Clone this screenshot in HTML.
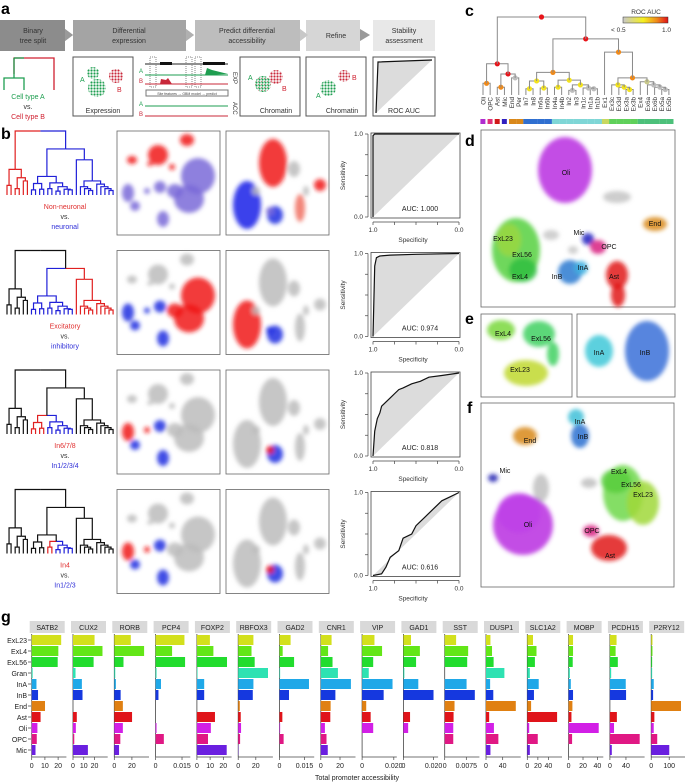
<!DOCTYPE html>
<html><head><meta charset="utf-8">
<style>
body{margin:0;background:#fff;}
svg{display:block;font-family:"Liberation Sans",sans-serif;}
</style></head>
<body>
<svg id="fig" width="685" height="783" viewBox="0 0 685 783" xmlns="http://www.w3.org/2000/svg">
<defs>
<filter id="blur2" x="-50%" y="-50%" width="200%" height="200%"><feGaussianBlur stdDeviation="2"/></filter>
<pattern id="gdots" width="3" height="3" patternUnits="userSpaceOnUse"><circle cx="1.5" cy="1.5" r="1.1" fill="#1e9e50"/></pattern>
<pattern id="rdots" width="3" height="3" patternUnits="userSpaceOnUse"><circle cx="1.5" cy="1.5" r="1.1" fill="#c8283a"/></pattern>
<pattern id="mdots" width="3" height="3" patternUnits="userSpaceOnUse"><circle cx="1.5" cy="1.5" r="1.1" fill="#1e9e50"/><circle cx="0" cy="0" r="0.8" fill="#c8283a"/></pattern>
<linearGradient id="rocgrad" x1="0" x2="1"><stop offset="0" stop-color="#c8c8c8"/><stop offset="0.45" stop-color="#f5f020"/><stop offset="0.75" stop-color="#f08a1a"/><stop offset="1" stop-color="#e01018"/></linearGradient>
</defs>

<g>
<text x="1" y="14" font-size="16" font-weight="bold">a</text>
<polygon points="0,20 65,20 65,29 73,35 65,41 65,51 0,51" fill="#8c8c8c"/>
<polygon points="73,20 186,20 186,29 194,35 186,41 186,51 73,51" fill="#a4a4a4"/>
<polygon points="195,20 300,20 300,29 308,35 300,41 300,51 195,51" fill="#bdbdbd"/>
<polygon points="306,20 360,20 360,29 370,35 360,41 360,51 306,51" fill="#d6d6d6"/>
<rect x="373" y="20" width="62" height="31" fill="#e8e8e8"/>
<polygon points="65,29 73,35 65,41" fill="#9a9a9a"/><polygon points="186,29 194,35 186,41" fill="#b0b0b0"/><polygon points="300,29 308,35 300,41" fill="#c8c8c8"/><polygon points="360,29 370,35 360,41" fill="#9a9a9a"/>
<g font-size="7" fill="#333" text-anchor="middle">
<text x="33" y="33">Binary</text><text x="33" y="43">tree split</text>
<text x="129" y="33">Differential</text><text x="129" y="43">expression</text>
<text x="247" y="33">Predict differential</text><text x="247" y="43">accessibility</text>
<text x="336" y="38">Refine</text>
<text x="404" y="33">Stability</text><text x="404" y="43">assessment</text>
</g>
<g stroke-width="1.3" fill="none">
<path d="M14,74 V58 H54 V90" stroke="#d02030"/><path d="M14,58 H24" stroke="#1e9e50"/>
<path d="M14,58 V78 M4,90 V78 H24 V90" stroke="#1e9e50"/>
</g>
<g font-size="7" text-anchor="middle"><text x="28" y="99" fill="#1e9e50">Cell type A</text><text x="28" y="109" fill="#333">vs.</text><text x="28" y="119" fill="#d02030">Cell type B</text></g>
<rect x="73" y="57" width="60" height="59" fill="#fff" stroke="#555"/>
<circle cx="93" cy="73" r="6" fill="url(#gdots)"/><circle cx="97" cy="88" r="9" fill="url(#gdots)"/><circle cx="116" cy="76" r="7" fill="url(#rdots)"/>
<text x="80" y="82" font-size="7" fill="#1e9e50">A</text><text x="117" y="92" font-size="7" fill="#d02030">B</text>
<text x="103" y="113" font-size="7" text-anchor="middle" fill="#333">Expression</text>
<g font-size="6">
<line x1="145" y1="64" x2="228" y2="64" stroke="#222"/><rect x="160" y="62" width="12" height="3" fill="#111"/><rect x="203" y="62" width="22" height="3" fill="#111"/>
<rect x="150" y="57" width="6" height="30" fill="none" stroke="#888" stroke-dasharray="1,1"/><rect x="186" y="57" width="6" height="30" fill="none" stroke="#888" stroke-dasharray="1,1"/><rect x="195" y="57" width="6" height="30" fill="none" stroke="#888" stroke-dasharray="1,1"/>
<text x="139" y="73" fill="#1e9e50">A</text><line x1="145" y1="75" x2="228" y2="75" stroke="#1e9e50"/><path d="M205,75 L207,68 L212,70 L220,72 L228,74 Z" fill="#1e9e50"/>
<text x="139" y="83" fill="#c8283a">B</text><line x1="145" y1="84" x2="228" y2="84" stroke="#c8283a"/><path d="M160,84 L161,79 L166,80 L168,78 L172,84 Z" fill="#c8283a"/>
<rect x="146" y="90" width="82" height="6" fill="#fff" stroke="#777"/><text x="187" y="95" font-size="3.5" text-anchor="middle" fill="#444">Site features → GBM model → predict</text>
<text x="139" y="106" fill="#1e9e50">A</text><line x1="145" y1="106" x2="228" y2="106" stroke="#1e9e50"/>
<text x="139" y="116" fill="#c8283a">B</text><line x1="145" y1="116" x2="228" y2="116" stroke="#c8283a"/>
<text x="233" y="72" font-size="6" transform="rotate(90 233 72)" fill="#333">EXP</text><text x="233" y="102" font-size="6" transform="rotate(90 233 102)" fill="#333">ACC</text>
</g>
<rect x="240" y="57" width="60" height="59" fill="#fff" stroke="#555"/>
<circle cx="263" cy="84" r="8" fill="url(#mdots)"/><circle cx="276" cy="77" r="7" fill="url(#rdots)"/>
<text x="248" y="80" font-size="7" fill="#1e9e50">A</text><text x="282" y="91" font-size="7" fill="#d02030">B</text>
<text x="276" y="113" font-size="7" text-anchor="middle" fill="#333">Chromatin</text>
<rect x="306" y="57" width="60" height="59" fill="#fff" stroke="#555"/>
<circle cx="328" cy="88" r="8" fill="url(#gdots)"/><circle cx="344" cy="76" r="6" fill="url(#rdots)"/>
<text x="316" y="98" font-size="7" fill="#1e9e50">A</text><text x="352" y="80" font-size="7" fill="#d02030">B</text>
<text x="342" y="113" font-size="7" text-anchor="middle" fill="#333">Chromatin</text>
<rect x="373" y="57" width="62" height="59" fill="#fff" stroke="#555"/>
<polygon points="376,113 378,62 432,60 432,113" fill="#dcdcdc"/><polygon points="376,113 432,60 432,113" fill="#fff"/>
<path d="M376,113 L378,62 L432,60" fill="none" stroke="#111" stroke-width="1.2"/>
<text x="404" y="113" font-size="7" text-anchor="middle" fill="#333">ROC AUC</text>
</g>

<g id="panelc">
<text x="465" y="16" font-size="16" font-weight="bold">c</text>
<text x="646" y="14" font-size="6.5" text-anchor="middle" fill="#333">ROC AUC</text>
<rect x="623" y="17" width="45" height="6" fill="url(#rocgrad)" stroke="#333" stroke-width="0.5"/>
<text x="611" y="32" font-size="6.5" fill="#333">&lt; 0.5</text><text x="662" y="32" font-size="6.5" fill="#333">1.0</text>
</g>

<g id="panelb">
<text x="1" y="139" font-size="16" font-weight="bold">b</text>
</g>

<g id="paneldef">
<text x="465" y="146" font-size="16" font-weight="bold">d</text>
<text x="465" y="324" font-size="16" font-weight="bold">e</text>
<text x="467" y="413" font-size="16" font-weight="bold">f</text>
</g>

<g id="panelg">
<text x="1" y="622" font-size="16" font-weight="bold">g</text>
<text x="357" y="780" font-size="7" text-anchor="middle" fill="#222">Total promoter accessibility</text>
</g>
</svg>

<script>
const genes = ["SATB2","CUX2","RORB","PCP4","FOXP2","RBFOX3","GAD2","CNR1","VIP","GAD1","SST","DUSP1","SLC1A2","MOBP","PCDH15","P2RY12"];
const cellTypes = ["ExL23","ExL4","ExL56","Gran","InA","InB","End","Ast","Oli","OPC","Mic"];
const cellColors = ["#d3e01c","#63e617","#22dc2e","#2ee2b2","#1fa8e8","#1538df","#e08012","#e0141a","#d21fe6","#e01884","#6a1fe0"];
const geneScale = [24,29.5,36,0.018,24,36,0.019,33,0.020,0.021,0.011,76,60,44,79,176];
const v_SATB2  = [93,84,82,3,15,20,42,28,18,16,12];
const v_CUX2   = [68,93,65,8,28,30,0,12,9,4,47];
const v_RORB   = [52,94,29,3,5,20,27,56,27,19,15];
const v_PCP4   = [91,52,93,3,17,9,0,0,3,26,0];
const v_FOXP2  = [41,52,95,2,23,23,0,57,44,35,94];
const v_RBFOX3 = [48,42,52,94,48,46,5,8,9,6,1];
const v_GAD2   = [35,10,46,2,93,30,0,9,2,13,0];
const v_CNR1   = [34,23,37,54,95,46,31,30,13,18,22];
const v_VIP    = [39,63,35,21,96,68,13,27,35,0,0];
const v_GAD1   = [24,52,40,3,47,95,0,21,15,0,0];
const v_SST    = [36,74,71,0,69,95,31,28,27,27,0];
const v_DUSP1  = [14,19,24,58,13,23,94,10,25,39,14];
const v_SLC1A2 = [18,29,24,8,36,21,12,94,6,33,8];
const v_MOBP   = [14,14,13,4,7,14,12,9,95,11,0];
const v_PCDH15 = [21,18,25,4,50,51,0,22,13,94,6];
const v_P2RY12 = [4,4,3,3,8,6,94,10,8,19,57];
const geneValues = [v_SATB2,v_CUX2,v_RORB,v_PCP4,v_FOXP2,v_RBFOX3,v_GAD2,v_CNR1,v_VIP,v_GAD1,v_SST,v_DUSP1,v_SLC1A2,v_MOBP,v_PCDH15,v_P2RY12];
const geneTicks = [[0,10,20],[0,10,20],[0,20],[0,0.015],[0,10,20],[0,20],[0,0.015],[0,20],[0,0.020],[0,0.020],[0,0.0075],[0,40],[0,20,40],[0,20,40],[0,40],[0,100]];
const geneTickLabels = [["0","10","20"],["0","10","20"],["0","20"],["0","0.015"],["0","10","20"],["0","20"],["0","0.015"],["0","20"],["0","0.020"],["0","0.020"],["0","0.0075"],["0","40"],["0","20","40"],["0","20","40"],["0","40"],["0","100"]];

const rocAUC = ["AUC: 1.000","AUC: 0.974","AUC: 0.818","AUC: 0.616"];
const roc1_fpr = [0,0,0.02,1]; const roc1_tpr = [0,0.98,1,1];
const roc2_fpr = [0,0.02,0.04,0.08,0.2,0.5,1]; const roc2_tpr = [0,0.85,0.95,0.97,0.98,0.99,1];
const roc3_fpr = [0,0.02,0.05,0.08,0.1,0.15,0.2,0.25,0.3,0.35,0.45,0.55,0.65,0.8,1]; const roc3_tpr = [0,0.3,0.45,0.52,0.6,0.65,0.7,0.75,0.8,0.82,0.87,0.9,0.95,0.97,1];
const roc4_fpr = [0,0.1,0.15,0.2,0.3,0.35,0.45,0.5,0.55,0.6,0.7,0.8,0.9,1]; const roc4_tpr = [0,0.02,0.1,0.22,0.3,0.45,0.5,0.6,0.65,0.7,0.8,0.9,0.95,1];
const rocFpr = [roc1_fpr,roc2_fpr,roc3_fpr,roc4_fpr];
const rocTpr = [roc1_tpr,roc2_tpr,roc3_tpr,roc4_tpr];

const leafNames = ["Oli","OPC","Ast","Mic","End","Per","In7","In8","In6a","In6b","In4a","In4b","In2","In3","In1c","In1a","In1b","Ex1","Ex3c","Ex3d","Ex3a","Ex3b","Ex4","Ex6a","Ex6b","Ex5a","Ex5b"];

const NS = "http://www.w3.org/2000/svg";
const fig = document.getElementById("fig");
function mk(tag, attrs, parent){ const e=document.createElementNS(NS,tag); for(const k in attrs) e.setAttribute(k,attrs[k]); (parent||fig).appendChild(e); return e; }

const pg = document.getElementById("panelg");
const gBarW = 31.7, gStep = 41.3, gX0 = 31.7, rowY0 = 640, rowStep = 11, barH = 10, axisY = 757;
cellTypes.forEach((ct,r)=>{
  const t = mk("text",{x:27,y:rowY0+r*rowStep+3,"font-size":7,"text-anchor":"end",fill:"#222"},pg);
  t.textContent = ct;
  
  
  mk("line",{x1:28,x2:31,y1:rowY0+r*rowStep,y2:rowY0+r*rowStep,stroke:"#333","stroke-width":0.7},pg);
});
genes.forEach((gname,i)=>{
  const x0 = gX0 + i*gStep;
  const hd = mk("rect",{x:x0-2,y:621,width:35,height:12,fill:"#d9d9d9"},pg);
  
  
  const ht = mk("text",{x:x0+15.5,y:630,"font-size":7,"text-anchor":"middle",fill:"#222"},pg);
  ht.textContent = gname;
  
  
  mk("line",{x1:x0,x2:x0,y1:634,y2:axisY,stroke:"#444","stroke-width":0.8},pg);
  const vals = geneValues[i];
  vals.forEach((v,r)=>{
    const w = v/100*gBarW;
    if (w<=0) return;
    const b = mk("rect",{x:x0,y:rowY0+r*rowStep-barH/2,width:w,height:barH,fill:cellColors[r]},pg);
    
    
  });
  mk("line",{x1:x0,x2:x0+gBarW+3,y1:axisY,y2:axisY,stroke:"#444","stroke-width":0.8},pg);
  geneTicks[i].forEach((tv,k)=>{
    const tx = x0 + tv/geneScale[i]*gBarW;
    mk("line",{x1:tx,x2:tx,y1:axisY,y2:axisY+3,stroke:"#444","stroke-width":0.7},pg);
    const tl = mk("text",{x:tx,y:axisY+11,"font-size":7,"text-anchor":"middle",fill:"#222"},pg);
    tl.textContent = geneTickLabels[i][k];
    
    
  });
});

function N(h,c,ch){ return {h:h,c:c,ch:ch}; }
const tree = N(1.0,'r',[
  N(.40,'r',[ N(.15,'o',[0,1]), N(.27,'r',[ N(.10,'o',[2,3]), N(.22,'g',[4,5]) ]) ]),
  N(.72,'r',[
    N(.29,'o',[ N(.18,'y',[N(.08,'y',[6,7]),N(.09,'y',[8,9])]),
                N(.19,'y',[N(.10,'y',[10,11]), N(.13,'y',[N(.06,'g',[12,13]), N(.09,'g',[14,N(.08,'g',[15,16])])])]) ]),
    N(.55,'o',[17, N(.22,'o',[ N(.13,'y',[18, N(.10,'y',[19, N(.07,'y',[20,21])])]),
                                N(.17,'k',[22, N(.13,'g',[23, N(.10,'g',[24, N(.07,'g',[25,26])])])]) ])])
  ])
]);
const nodeCol = {r:"#e8141a",o:"#f08a1a",y:"#f2e21e",g:"#bdbdbd",k:"#c8c88a"};
function leavesOf(n){ return typeof n==="number"?[n]:n.ch.flatMap(leavesOf); }
function layout(n, box){
  if (typeof n==="number") return {x:box.x0+n*box.dx, y:box.leafY};
  const pts = n.ch.map(c=>layout(c,box));
  const x = pts.reduce((s,p)=>s+p.x,0)/pts.length;
  const y = box.leafY - n.h*box.H;
  n.ch.forEach((c,k)=>{
    const col = box.colorFn(c);
    mk("path",{d:`M${x},${y} H${pts[k].x} V${pts[k].y}`,fill:"none",stroke:col,"stroke-width":box.sw},box.parent);
  });
  if (box.nodes){
    const dot = mk("circle",{cx:x,cy:y,r:2.6,fill:nodeCol[n.c]},box.parent);
    
    
  }
  return {x:x,y:y};
}
const pc = document.getElementById("panelc");
const cBox = {x0:483,dx:7.15,leafY:95,H:78,parent:pc,sw:1,nodes:true,colorFn:()=>"#8a8a8a"};
layout(tree,cBox);
leafNames.forEach((nm,i)=>{
  const x=483+i*7.15;
  const t=mk("text",{x:x+2.3,y:97,"font-size":6.3,"text-anchor":"end",fill:"#333",transform:`rotate(-90 ${x+2.3} 97)`},pc);
  t.textContent=nm;
  
  
});
const groupColor = ["#b02ccf","#e0307a","#d01818","#3020c0","#d9881a","#d9881a","#2f6fd0","#2f6fd0","#2f6fd0","#2f6fd0","#7fd6d6","#7fd6d6","#7fd6d6","#7fd6d6","#7fd6d6","#7fd6d6","#7fd6d6","#c8d860","#5fd05a","#5fd05a","#5fd05a","#5fd05a","#4cc07a","#4cc07a","#4cc07a","#4cc07a","#4cc07a"];
groupColor.forEach((c,i)=>{
  const r=mk("rect",{x:483+i*7.15-2.6,y:119,width:(i<4)?5:7.2,height:5,fill:c},pc);
  
  
});

const pb = document.getElementById("panelb");
const rowTop = [131,250.5,370,489.5];
const redSets = [[0,1,2,3,4,5],[17,18,19,20,21,22,23,24,25,26],[6,7,8,9],[10,11]];
const blueSets = [[6,7,8,9,10,11,12,13,14,15,16,17,18,19,20,21,22,23,24,25,26],[6,7,8,9,10,11,12,13,14,15,16],[10,11,12,13,14,15,16],[12,13,14,15,16]];
const rowLabelA = ["Non-neuronal","Excitatory","In6/7/8","In4"];
const rowLabelB = ["neuronal","inhibitory","In1/2/3/4","In1/2/3"];
const tsneA = [
 [41,24,10,10,"nn"],[70,9,7,6,"nn"],[15,29,5,4,"nn"],[33,33,3,2,"nn"],[55,36,3,3,"nn"],
 [81,45,17,18,"ex"],[72,68,15,14,"ex"],[58,60,8,7,"ex"],
 [11,62,6,9,"inA"],[18,75,5,5,"inB"],[43,56,6,6,"inB"],[46,88,6,8,"inB"],[30,60,3,3,"inA"]
];
const tsneB = [
 [47,32,14,24,"nn"],[94,54,6,6,"nn"],[74,77,5,14,"nn2"],[68,38,6,8,"gray"],[80,60,3,5,"gray"],
 [21,74,14,24,"ex"],[30,60,4,4,"gray"],
 [49,84,8,9,"inB"],[44,80,4,4,"inA"]
];
const rowGroupColor = [
 {nn:"#f01414",nn2:"#f07060",ex:"#7a6ad8",inA:"#7a6ad8",inB:"#7a6ad8",gray:"#bcbcbc"},
 {nn:"#bcbcbc",nn2:"#bcbcbc",ex:"#f01414",inA:"#2030e0",inB:"#2030e0",gray:"#bcbcbc"},
 {nn:"#bcbcbc",nn2:"#bcbcbc",ex:"#bcbcbc",inA:"#f01414",inB:"#2030e0",gray:"#bcbcbc"},
 {nn:"#bcbcbc",nn2:"#bcbcbc",ex:"#bcbcbc",inA:"#f01414",inB:"#2030e0",gray:"#bcbcbc"}
];
const row1B = {ex:"#1a20e8",inB:"#2030e0"};
rowTop.forEach((top,r)=>{
  const rs = redSets[r], bs = blueSets[r];
  const box = {x0:7,dx:4.08,leafY:top+64,H:64,parent:pb,sw:1.2,nodes:false,colorFn:(c)=>{
    const L=leavesOf(c); if(L.every(l=>rs.includes(l))) return "#e02020"; if(L.every(l=>bs.includes(l))) return "#2020d8"; return "#111";}};
  layout(tree,box);
  const t1=mk("text",{x:65,y:top+78,"font-size":7,"text-anchor":"middle",fill:"#e03030"},pb); t1.textContent=rowLabelA[r];
   
  const t2=mk("text",{x:65,y:top+88,"font-size":7,"text-anchor":"middle",fill:"#333"},pb); t2.textContent="vs.";
  const t3=mk("text",{x:65,y:top+98,"font-size":7,"text-anchor":"middle",fill:"#3030d8"},pb); t3.textContent=rowLabelB[r];
   
  [[117,tsneA],[226,tsneB]].forEach(([bx,cl],k)=>{
    const fr = mk("rect",{x:bx,y:top,width:103,height:104,fill:"#fff",stroke:"#666","stroke-width":0.8},pb);
    
    
    const g = mk("g",{filter:"url(#blur2)"},pb);
    cl.forEach(c=>{
      let col = rowGroupColor[r][c[4]];
      if (r==0 && k==1 && row1B[c[4]]) col = row1B[c[4]];
      mk("ellipse",{cx:bx+c[0],cy:top+c[1],rx:c[2],ry:c[3],fill:col,opacity:0.85},g);
    });
  });
  const rx0=373, rx1=459, ry0=top+3, ry1=top+86;
  const X = f=>rx0+f*(rx1-rx0), Y = t=>ry1-t*(ry1-ry0);
  mk("rect",{x:rx0-2,y:ry0-1,width:rx1-rx0+3,height:ry1-ry0+2,fill:"#fff",stroke:"#444","stroke-width":0.8},pb);
  const fp=rocFpr[r], tp=rocTpr[r];
  let d = fp.map((f,i)=>(i?"L":"M")+X(f)+","+Y(tp[i])).join(" ");
  const fill = mk("path",{d:d+` L${X(0)},${Y(0)} Z`,fill:"#dcdcdc"},pb);
   
  const ln = mk("path",{d:d,fill:"none",stroke:"#111","stroke-width":1.2},pb);
   
  mk("line",{x1:rx0-5,x2:rx0-5,y1:ry0,y2:ry1,stroke:"#444","stroke-width":0.7},pb);
  mk("line",{x1:rx0,x2:rx1,y1:ry1+5,y2:ry1+5,stroke:"#444","stroke-width":0.7},pb);
  [0,0.25,0.5,0.75,1].forEach(t=>{
    mk("line",{x1:rx0-8,x2:rx0-5,y1:Y(t),y2:Y(t),stroke:"#444","stroke-width":0.7},pb);
    mk("line",{x1:X(t),x2:X(t),y1:ry1+5,y2:ry1+8,stroke:"#444","stroke-width":0.7},pb);
  });
  const a1=mk("text",{x:rx0-10,y:Y(1)+2,"font-size":6.5,"text-anchor":"end",fill:"#333"},pb); a1.textContent="1.0";
  const a0=mk("text",{x:rx0-10,y:Y(0)+2,"font-size":6.5,"text-anchor":"end",fill:"#333"},pb); a0.textContent="0.0";
  const b1=mk("text",{x:X(0),y:ry1+15,"font-size":6.5,"text-anchor":"middle",fill:"#333"},pb); b1.textContent="1.0";
  const b0=mk("text",{x:X(1),y:ry1+15,"font-size":6.5,"text-anchor":"middle",fill:"#333"},pb); b0.textContent="0.0";
  const sx=mk("text",{x:413,y:ry1+25,"font-size":6.5,"text-anchor":"middle",fill:"#333"},pb); sx.textContent="Specificity";
   
  const sy=mk("text",{x:345,y:(ry0+ry1)/2,"font-size":6.5,"text-anchor":"middle",fill:"#333",transform:`rotate(-90 345 ${(ry0+ry1)/2})`},pb); sy.textContent="Sensitivity";
   
  const au=mk("text",{x:420,y:ry1-6,"font-size":7,"text-anchor":"middle",fill:"#222"},pb); au.textContent=rocAUC[r];
   
});

const pd = document.getElementById("paneldef");
function cloudPanel(x,y,w,h,name,clusters,labels){
  const fr=mk("rect",{x:x,y:y,width:w,height:h,fill:"#fff",stroke:"#666","stroke-width":0.8},pd);
   
  const g=mk("g",{filter:"url(#blur2)"},pd);
  clusters.forEach(c=>mk("ellipse",{cx:x+c[0],cy:y+c[1],rx:c[2],ry:c[3],fill:c[4],opacity:0.85},g));
  labels.forEach(l=>{const t=mk("text",{x:x+l[0],y:y+l[1],"font-size":7,"text-anchor":"middle",fill:"#111"},pd); t.textContent=l[2];
     });
}
cloudPanel(481,130,194,177,"tsne-panel-d",[
 [84,40,27,33,"#b830e0"],[136,67,14,6,"#c4c4c4"],[174,94,12,7,"#d88818"],
 [35,120,24,32,"#56d040"],[28,110,12,16,"#9ad840"],[42,140,14,12,"#30c040"],
 [89,142,12,12,"#2a7ad0"],[100,138,7,7,"#40b0e0"],
 [107,109,6,6,"#2020c0"],[117,117,8,7,"#d82080"],[136,145,11,14,"#e01818"],[137,165,7,12,"#e01818"],
 [70,105,8,5,"#c8c8c8"],[92,120,5,4,"#c8c8c8"]
],[[85,45,"Oli"],[174,96,"End"],[22,111,"ExL23"],[41,127,"ExL56"],[39,149,"ExL4"],[76,149,"InB"],[102,140,"InA"],[98,105,"Mic"],[128,119,"OPC"],[133,149,"Ast"]]);
cloudPanel(481,314,91,83,"tsne-panel-e-excitatory",[[20,16,14,10,"#7ad83c"],[58,20,16,13,"#40d060"],[45,59,22,13,"#c0d830"],[72,40,6,12,"#40d060"]],[[22,22,"ExL4"],[60,27,"ExL56"],[39,58,"ExL23"]]);
cloudPanel(577,314,98,83,"tsne-panel-e-inhibitory",[[22,37,14,16,"#40c8d8"],[70,37,22,30,"#3a70d8"]],[[22,41,"InA"],[68,41,"InB"]]);
cloudPanel(481,403,193,184,"tsne-panel-f",[
 [44,33,12,9,"#d88818"],[95,14,8,8,"#40c0d8"],[99,33,9,12,"#2a70d0"],[12,75,5,4,"#2020b0"],[60,85,8,14,"#c0c0c0"],
 [42,122,30,30,"#b830e0"],[38,110,22,20,"#c040e8"],[110,128,8,6,"#d82080"],[128,145,18,13,"#e01818"],
 [142,90,20,28,"#6ed84a"],[162,100,16,22,"#a0d838"],[135,78,15,12,"#58cc3c"],[108,80,8,5,"#c0c0c0"]
],[[49,40,"End"],[99,21,"InA"],[102,36,"InB"],[24,70,"Mic"],[47,124,"Oli"],[111,130,"OPC"],[129,155,"Ast"],[138,71,"ExL4"],[150,84,"ExL56"],[162,94,"ExL23"]]);
</script>
</body></html>
